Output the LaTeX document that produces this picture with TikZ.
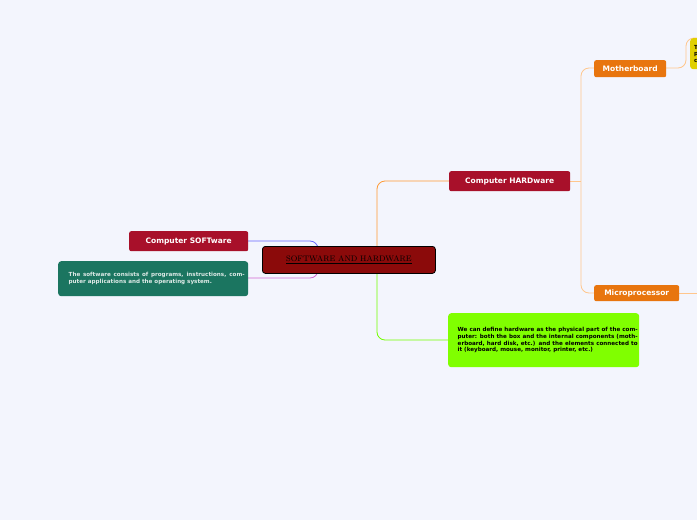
\documentclass[tikz,border=0pt]{standalone}
\usepackage{fontspec}
\setsansfont{DejaVu Sans}
\begin{document}
\begin{tikzpicture}[x=1pt,y=-1pt,
 lab/.style={rounded corners=2pt,text=white,font=\sffamily\bfseries\fontsize{7.5}{9}\selectfont,inner sep=0pt,anchor=north west},
 txt/.style={rounded corners=3pt,font=\sffamily\bfseries\fontsize{5.6}{6.6}\selectfont,align=left,inner sep=0pt,anchor=north west},
 con/.style={line width=0.8pt,rounded corners=8pt}]
\definecolor{bg}{HTML}{F3F5FD}
\definecolor{crim}{HTML}{A8102A}
\definecolor{teal}{HTML}{1B7560}
\definecolor{orng}{HTML}{E8750E}
\definecolor{lime}{HTML}{80FF00}
\definecolor{yell}{HTML}{E0D000}
\definecolor{dred}{HTML}{8B0A0A}
\clip (0,0) rectangle (697,520);
\fill[bg] (0,0) rectangle (697,520);
% connectors
\coordinate (cs) at (318,252);
\coordinate (hx) at (377,260);
\draw[con,draw=blue!60] (cs) |- (248,241);
\draw[con,draw=violet!60!magenta!60] (cs) |- (248,278);
\draw[con,draw=orange!80] (hx) |- (449,181);
\draw[con,draw=lime!90!green] (hx) |- (448,340);
\draw[con,draw=orange!45] (570,181) -- (581,181);
\draw[con,draw=orange!45] (594,68) -| (581,181) |- (594,293);
\draw[con,draw=orange!45] (666,68) -- (686,68) |- (697,38);
\draw[con,draw=orange!45] (679,293) -- (697,293);
% nodes
\node[draw=black,line width=0.8pt,fill=dred,rounded corners=3pt,minimum width=173pt,minimum height=27pt,anchor=north west,font=\fontsize{8}{9}\selectfont] (c) at (262,246) {\underline{SOFTWARE AND HARDWARE}};
\node[lab,fill=crim,minimum width=119pt,minimum height=20pt] (sw) at (129,231) {Computer SOFTware};
\node[txt,fill=teal,text=white!85!teal,minimum width=190pt,minimum height=35pt] (st) at (58,261) {\hspace*{7pt}\parbox{176pt}{The software consists of programs, instructions, computer applications and the operating system.}};
\node[lab,fill=crim,minimum width=121pt,minimum height=20pt] (hw) at (449,171) {Computer HARDware};
\node[lab,fill=orng,minimum width=72pt,minimum height=17pt] (mb) at (594,60) {Motherboard};
\node[lab,fill=orng,minimum width=85pt,minimum height=16pt] (mp) at (594,285) {Microprocessor};
\node[txt,fill=lime,minimum width=191pt,minimum height=54pt] (ht) at (448,313) {\hspace*{8pt}\parbox{180pt}{We can define hardware as the physical part of the computer: both the box and the internal components (motherboard, hard disk, etc.) and the elements connected to it (keyboard, mouse, monitor, printer, etc.)}};
\node[txt,fill=yell,minimum width=30pt,minimum height=31pt] (yt) at (690,38) {\hspace*{3pt}\parbox{25pt}{T\\p\\c}};
\end{tikzpicture}
\end{document}
